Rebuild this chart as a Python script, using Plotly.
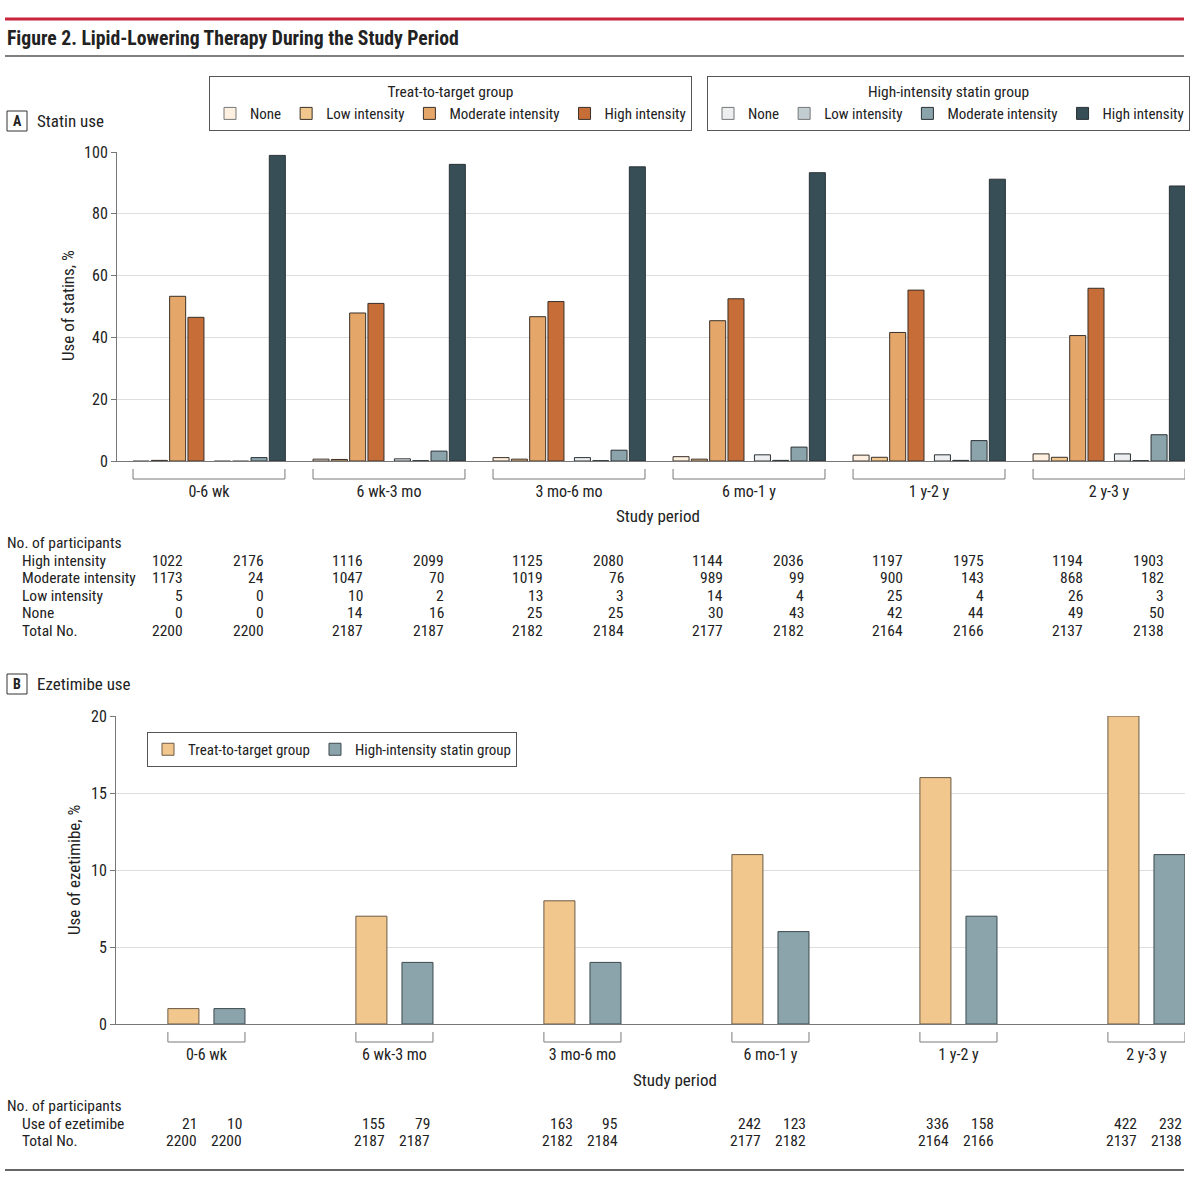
import plotly.graph_objects as go

W, H = 1200, 1180
FONT = "Liberation Sans Narrow, Arial Narrow, Roboto Condensed, sans-serif"
TXT = "#222222"

periods = ["0-6 wk", "6 wk-3 mo", "3 mo-6 mo", "6 mo-1 y", "1 y-2 y", "2 y-3 y"]
levels = ["None", "Low intensity", "Moderate intensity", "High intensity"]

# panel A - statin use, %
ttt_none = [0, 0.6, 1.1, 1.4, 1.9, 2.3]
ttt_low = [0.2, 0.5, 0.6, 0.6, 1.2, 1.2]
ttt_mod = [53.3, 47.9, 46.7, 45.4, 41.6, 40.6]
ttt_high = [46.5, 51.0, 51.6, 52.5, 55.3, 55.9]
his_none = [0, 0.7, 1.1, 2.0, 2.0, 2.3]
his_low = [0, 0.1, 0.1, 0.2, 0.2, 0.1]
his_mod = [1.1, 3.2, 3.5, 4.5, 6.6, 8.5]
his_high = [98.9, 96.0, 95.2, 93.3, 91.2, 89.0]

# panel A - no. of participants
n_high_ttt = [1022, 1116, 1125, 1144, 1197, 1194]
n_high_his = [2176, 2099, 2080, 2036, 1975, 1903]
n_mod_ttt = [1173, 1047, 1019, 989, 900, 868]
n_mod_his = [24, 70, 76, 99, 143, 182]
n_low_ttt = [5, 10, 13, 14, 25, 26]
n_low_his = [0, 2, 3, 4, 4, 3]
n_none_ttt = [0, 14, 25, 30, 42, 49]
n_none_his = [0, 16, 25, 43, 44, 50]
n_total_ttt = [2200, 2187, 2182, 2177, 2164, 2137]
n_total_his = [2200, 2187, 2184, 2182, 2166, 2138]

# panel B - ezetimibe use, %
eze_ttt = [1, 7, 8, 11, 16, 20]
eze_his = [1, 4, 4, 6, 7, 11]
n_eze_ttt = [21, 155, 163, 242, 336, 422]
n_eze_his = [10, 79, 95, 123, 158, 232]
n_eze_total_ttt = [2200, 2187, 2182, 2177, 2164, 2137]
n_eze_total_his = [2200, 2187, 2184, 2182, 2166, 2138]

ttt_colors = ["#fdf0e1", "#f2c78e", "#e5a669", "#c66d38"]
his_colors = ["#eceeef", "#c2cdd1", "#8ba3aa", "#374e57"]
AXIS = "#777777"


def X(p):
    return p / W


def Y(p):
    return 1 - p / H


def outline(vals, color):
    # empty bars blend into the baseline
    return [AXIS if v == 0 else color for v in vals]


fig = go.Figure()

# ---- panel A bars
bw_a, pitch_a = 0.089, 0.1017
ttt_series = [ttt_none, ttt_low, ttt_mod, ttt_high]
his_series = [his_none, his_low, his_mod, his_high]
for i in range(4):
    fig.add_trace(go.Bar(
        x=periods, y=ttt_series[i], name=levels[i], legend="legend",
        offset=-0.422 + i * pitch_a, width=bw_a,
        marker=dict(color=ttt_colors[i],
                    line=dict(color=outline(ttt_series[i], "#3a3028"), width=1)),
        xaxis="x", yaxis="y"))
for i in range(4):
    fig.add_trace(go.Bar(
        x=periods, y=his_series[i], name=levels[i], legend="legend2",
        offset=0.030 + i * pitch_a, width=bw_a,
        marker=dict(color=his_colors[i],
                    line=dict(color=outline(his_series[i], "#2a3236"), width=1)),
        xaxis="x", yaxis="y"))

# ---- panel B bars
fig.add_trace(go.Bar(
    x=periods, y=eze_ttt, name="Treat-to-target group", legend="legend3",
    offset=-0.205, width=0.165,
    marker=dict(color=ttt_colors[1], line=dict(color="#6b5a45", width=1)),
    xaxis="x2", yaxis="y2"))
fig.add_trace(go.Bar(
    x=periods, y=eze_his, name="High-intensity statin group", legend="legend3",
    offset=0.040, width=0.165,
    marker=dict(color=his_colors[2], line=dict(color="#3c4a4f", width=1)),
    xaxis="x2", yaxis="y2"))

shapes = []
annotations = []


def hline(y, x0, x1, color, width):
    shapes.append(dict(type="line", xref="paper", yref="paper",
                       x0=X(x0), x1=X(x1), y0=Y(y), y1=Y(y),
                       line=dict(color=color, width=width)))


def text(x, y, s, size=15.5, anchor="left", xref="paper", bold=False, angle=0):
    annotations.append(dict(
        x=x if xref != "paper" else X(x), y=Y(y), xref=xref, yref="paper",
        text=f"<b>{s}</b>" if bold else s, showarrow=False,
        xanchor=anchor, yanchor="middle", textangle=angle,
        font=dict(family=FONT, size=size, color=TXT)))


# header lines and title
hline(19, 5, 1184, "#c8243c", 3)
hline(56, 5, 1184, "#555555", 1.5)
hline(1170, 5, 1184, "#333333", 1.5)
text(5, 38, "Figure 2. Lipid-Lowering Therapy During the Study Period", size=19.7, bold=True)

# panel labels
for lab, name, yy in [("A", "Statin use", 121), ("B", "Ezetimibe use", 684)]:
    shapes.append(dict(type="rect", xref="paper", yref="paper",
                       x0=X(7), x1=X(27), y0=Y(yy - 10), y1=Y(yy + 10),
                       line=dict(color="#333333", width=1)))
    text(17, yy, lab, size=14, anchor="center", bold=True)
    text(35, yy, name, size=17)

# brackets under each period
for k in range(len(periods)):
    for xr, half, y0, y1 in [("x", 0.422, 469, 479), ("x2", 0.205, 1032, 1042)]:
        shapes.append(dict(
            type="path", xref=xr, yref="paper",
            path=f"M {k - half},{Y(y0)} L {k - half},{Y(y1)} L {k + half},{Y(y1)} L {k + half},{Y(y0)}",
            line=dict(color="#7a7a7a", width=1)))

# axis titles
text(68, 306, "Use of statins, %", size=17, anchor="center", angle=-90)
text(74, 870, "Use of ezetimibe, %", size=17, anchor="center", angle=-90)
text(658, 516, "Study period", size=17, anchor="center")
text(675, 1080, "Study period", size=17, anchor="center")

# participant table, panel A
text(5, 543, "No. of participants")
rows_a = [("High intensity", n_high_ttt, n_high_his, 561),
          ("Moderate intensity", n_mod_ttt, n_mod_his, 578),
          ("Low intensity", n_low_ttt, n_low_his, 596),
          ("None", n_none_ttt, n_none_his, 613),
          ("Total No.", n_total_ttt, n_total_his, 631)]
for label, a, b, yy in rows_a:
    text(20, yy, label)
    for k in range(len(periods)):
        text(k - 0.133, yy, str(a[k]), anchor="right", xref="x")
        text(k + 0.317, yy, str(b[k]), anchor="right", xref="x")

# participant table, panel B
text(5, 1106, "No. of participants")
rows_b = [("Use of ezetimibe", n_eze_ttt, n_eze_his, 1124),
          ("Total No.", n_eze_total_ttt, n_eze_total_his, 1141)]
for label, a, b, yy in rows_b:
    text(20, yy, label)
    for k in range(len(periods)):
        text(k - 0.040, yy, str(a[k]), anchor="right", xref="x2")
        text(k + 0.200, yy, str(b[k]), anchor="right", xref="x2")

axis_common = dict(showline=True, linecolor=AXIS, linewidth=1,
                   tickfont=dict(family=FONT, size=16, color=TXT), fixedrange=True)

legend_common = dict(orientation="h", xanchor="left", yanchor="top",
                     bgcolor="white", bordercolor="#555555", borderwidth=1,
                     font=dict(family=FONT, size=15, color=TXT),
                     itemclick=False, itemdoubleclick=False)
legend_title_font = dict(family=FONT, size=15.5, color=TXT)

fig.update_layout(
    width=W, height=H, margin=dict(l=0, r=0, t=0, b=0, autoexpand=False),
    paper_bgcolor="white", plot_bgcolor="white",
    barmode="overlay", showlegend=True,
    font=dict(family=FONT, size=15.5, color=TXT),
    xaxis=dict(domain=[X(117), X(1185)], range=[-0.511, 5.422], type="category",
               categoryorder="array", categoryarray=periods, anchor="y",
               showgrid=False, ticks="", ticklabelstandoff=16, **axis_common),
    yaxis=dict(domain=[Y(461), Y(152)], range=[0, 100], dtick=20, anchor="x",
               showgrid=True, gridcolor="#dedede", zeroline=False,
               ticks="outside", ticklen=5, tickcolor=AXIS, **axis_common),
    xaxis2=dict(domain=[X(116), X(1185)], range=[-0.481, 5.205], type="category",
                categoryorder="array", categoryarray=periods, anchor="y2",
                showgrid=False, ticks="", ticklabelstandoff=16, **axis_common),
    yaxis2=dict(domain=[Y(1024), Y(716)], range=[0, 20], dtick=5, anchor="x2",
                showgrid=True, gridcolor="#dedede", zeroline=False,
                ticks="outside", ticklen=5, tickcolor=AXIS, **axis_common),
    legend=dict(x=X(209), y=Y(76),
                title=dict(text="Treat-to-target group", side="top center",
                           font=legend_title_font),
                **legend_common),
    legend2=dict(x=X(707), y=Y(76),
                 title=dict(text="High-intensity statin group", side="top center",
                            font=legend_title_font),
                 **legend_common),
    legend3=dict(x=X(147), y=Y(732), **legend_common),
    shapes=shapes,
    annotations=annotations,
)

# pin the figure to the window origin (no default page margin / scrollbars)
pin = ("document.documentElement.style.margin='0';"
       "document.body.style.margin='0';"
       "document.documentElement.style.overflow='hidden';"
       "document.body.style.overflow='hidden';"
       "var g=document.querySelector('.plotly-graph-div');"
       "g.style.position='fixed';g.style.left='0px';g.style.top='0px';")
fig.write_html("out.html", config={"displayModeBar": False}, post_script=pin)
